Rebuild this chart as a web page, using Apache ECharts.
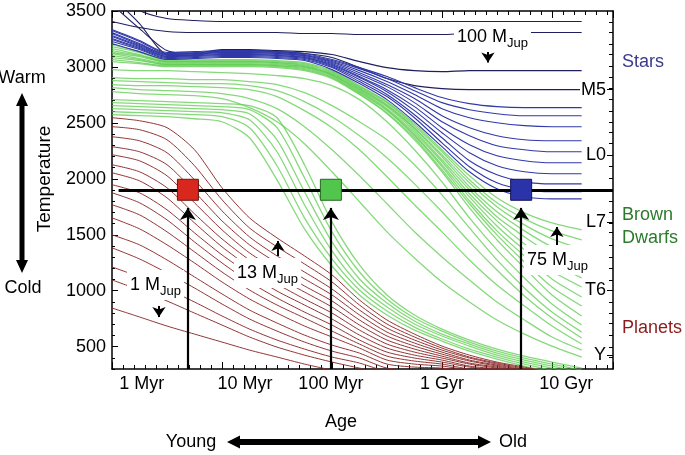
<!DOCTYPE html>
<html>
<head>
<meta charset="utf-8">
<script src="https://cdn.jsdelivr.net/npm/echarts@6/dist/echarts.min.js"></script>
<style>
  html, body { margin: 0; padding: 0; background: #fff; }
  #chart { width: 685px; height: 455px; }
</style>
</head>
<body>
<div id="chart"></div>
<script>
// log10(age / yr) where every track is sampled
const ageGrid = [6.0, 6.25, 6.5, 6.75, 7.0, 7.25, 7.5, 7.75, 8.0, 8.25, 8.5, 8.75, 9.0, 9.25, 9.5, 9.75, 10.0, 10.27]

// effective temperature (K) along each track
const starTracks = [
  [3693, 3505, 3433, 3415, 3406, 3406, 3406, 3406, 3406, 3406, 3406, 3406, 3406, 3406, 3406, 3406, 3406, 3406],
  [3406, 3352, 3317, 3308, 3308, 3308, 3308, 3299, 3299, 3290, 3290, 3290, 3290, 3299, 3299, 3308, 3308, 3308],
  [3558, 3343, 3146, 3120, 3155, 3155, 3146, 3137, 3111, 3048, 2994, 2967, 2958, 2967, 2967, 2967, 2967, 2967],
  [3630, 3388, 3111, 3102, 3146, 3146, 3137, 3120, 3084, 2994, 2896, 2833, 2806, 2797, 2797, 2797, 2797, 2797],
  [3334, 3236, 3129, 3137, 3146, 3146, 3137, 3120, 3066, 2994, 2914, 2815, 2726, 2672, 2645, 2636, 2636, 2636],
  [3325, 3227, 3120, 3129, 3137, 3137, 3129, 3111, 3057, 2985, 2896, 2788, 2681, 2618, 2582, 2564, 2564, 2564],
  [3308, 3209, 3111, 3120, 3129, 3129, 3120, 3102, 3048, 2967, 2869, 2753, 2627, 2546, 2501, 2475, 2466, 2466],
  [3299, 3200, 3111, 3120, 3129, 3129, 3120, 3102, 3039, 2949, 2842, 2717, 2564, 2457, 2385, 2349, 2340, 2340],
  [3281, 3191, 3102, 3111, 3120, 3120, 3111, 3093, 3030, 2932, 2824, 2681, 2510, 2385, 2296, 2260, 2242, 2242],
  [3272, 3182, 3093, 3102, 3111, 3111, 3102, 3084, 3021, 2914, 2797, 2645, 2457, 2305, 2206, 2161, 2143, 2143],
  [3254, 3173, 3093, 3102, 3111, 3111, 3102, 3084, 3012, 2905, 2779, 2609, 2412, 2233, 2117, 2063, 2045, 2045],
  [3245, 3164, 3084, 3093, 3102, 3102, 3093, 3075, 3003, 2887, 2753, 2573, 2367, 2161, 2036, 1973, 1955, 1955],
  [3227, 3155, 3075, 3084, 3093, 3093, 3084, 3066, 2994, 2869, 2735, 2546, 2322, 2108, 1964, 1902, 1884, 1884],
  [3209, 3137, 3066, 3075, 3084, 3084, 3075, 3057, 2976, 2851, 2708, 2510, 2287, 2063, 1911, 1839, 1821, 1821]
]

const dwarfTracks = [
  [3200, 3137, 3066, 3066, 3066, 3066, 3057, 3039, 2967, 2833, 2690, 2492, 2260, 2027, 1830, 1696, 1606, 1544],
  [3182, 3129, 3057, 3057, 3057, 3057, 3048, 3030, 2958, 2824, 2681, 2475, 2242, 1991, 1786, 1642, 1535, 1454],
  [3164, 3111, 3048, 3048, 3048, 3048, 3039, 3021, 2949, 2815, 2663, 2457, 2215, 1964, 1750, 1588, 1463, 1374],
  [3146, 3102, 3048, 3048, 3048, 3048, 3039, 3012, 2940, 2806, 2654, 2448, 2197, 1929, 1705, 1535, 1392, 1284],
  [3129, 3093, 3039, 3039, 3039, 3039, 3030, 3003, 2932, 2797, 2645, 2430, 2170, 1902, 1660, 1481, 1320, 1203],
  [3120, 3075, 3030, 3030, 3030, 3030, 3021, 3003, 2932, 2788, 2627, 2412, 2152, 1866, 1624, 1418, 1248, 1114],
  [3102, 3066, 3021, 3021, 3021, 3021, 3012, 2994, 2923, 2779, 2618, 2394, 2126, 1839, 1579, 1365, 1176, 1033],
  [3084, 3057, 3021, 3021, 3021, 3021, 3012, 2985, 2914, 2770, 2609, 2385, 2108, 1804, 1535, 1311, 1105, 944],
  [3066, 3039, 3012, 3012, 3012, 3012, 3003, 2976, 2905, 2761, 2591, 2367, 2081, 1777, 1499, 1257, 1033, 863],
  [3048, 3030, 3003, 3003, 3003, 3003, 2994, 2967, 2896, 2753, 2582, 2349, 2063, 1741, 1454, 1203, 962, 774],
  [2976, 2967, 2967, 2958, 2949, 2940, 2923, 2896, 2833, 2708, 2510, 2260, 1973, 1651, 1365, 1114, 881, 693],
  [2905, 2896, 2896, 2887, 2887, 2869, 2842, 2770, 2654, 2510, 2349, 2126, 1857, 1561, 1275, 1024, 809, 630],
  [2878, 2869, 2860, 2851, 2851, 2833, 2788, 2690, 2555, 2385, 2188, 1955, 1705, 1436, 1185, 953, 756, 577],
  [2842, 2833, 2833, 2824, 2815, 2797, 2735, 2609, 2457, 2260, 2018, 1768, 1526, 1275, 1051, 863, 684, 523],
  [2815, 2797, 2788, 2779, 2761, 2717, 2627, 2466, 2260, 2027, 1777, 1526, 1302, 1096, 899, 738, 586, 469],
  [2779, 2761, 2753, 2744, 2717, 2636, 2510, 2314, 2063, 1795, 1526, 1293, 1078, 899, 738, 612, 505, 407],
  [2708, 2699, 2690, 2681, 2672, 2654, 2546, 2126, 1615, 1230, 962, 783, 657, 559, 478, 415, 362, 308],
  [2681, 2672, 2663, 2654, 2645, 2618, 2457, 2009, 1526, 1167, 926, 756, 639, 541, 460, 398, 344, 290],
  [2654, 2645, 2636, 2627, 2618, 2582, 2349, 1884, 1436, 1105, 890, 729, 612, 523, 442, 380, 326, 272],
  [2627, 2618, 2609, 2600, 2591, 2528, 2242, 1768, 1356, 1051, 854, 702, 595, 505, 424, 362, 308, 254],
  [2600, 2591, 2582, 2573, 2555, 2457, 2117, 1651, 1284, 1006, 818, 675, 568, 478, 407, 344, 290, 236],
  [2573, 2564, 2555, 2537, 2510, 2367, 1991, 1553, 1221, 962, 783, 648, 550, 460, 389, 326, 272, 218]
]

const planetTracks = [
  [2546, 2519, 2457, 2260, 1920, 1651, 1472, 1311, 1141, 917, 738, 612, 505, 424, 362, 317, 272],
  [2466, 2439, 2349, 2117, 1813, 1561, 1392, 1239, 1078, 872, 702, 586, 487, 407, 353, 308, 263],
  [2376, 2340, 2233, 1991, 1714, 1481, 1311, 1167, 1015, 827, 666, 559, 469, 398, 344, 299, 254],
  [2287, 2242, 2126, 1884, 1624, 1410, 1248, 1105, 962, 783, 630, 532, 451, 380, 335, 290],
  [2215, 2161, 2027, 1786, 1544, 1338, 1185, 1042, 908, 738, 595, 505, 433, 371, 326, 281],
  [2126, 2063, 1920, 1687, 1463, 1275, 1123, 988, 854, 693, 559, 478, 415, 353, 317, 272],
  [2054, 1982, 1830, 1606, 1392, 1212, 1060, 926, 800, 648, 523, 451, 398, 344, 308, 263],
  [1947, 1875, 1723, 1517, 1320, 1150, 997, 872, 747, 603, 487, 424, 380, 326, 299, 254],
  [1875, 1786, 1633, 1436, 1248, 1078, 935, 809, 693, 559, 451, 398, 362, 317, 290],
  [1768, 1678, 1526, 1347, 1167, 1006, 872, 756, 639, 523, 415, 371, 344, 299, 281],
  [1651, 1553, 1410, 1248, 1078, 926, 800, 684, 586, 487, 380, 344, 326, 290, 272],
  [1499, 1410, 1275, 1123, 971, 827, 711, 603, 514, 442, 344, 317, 308, 281],
  [1383, 1284, 1159, 1024, 881, 747, 639, 541, 460, 398, 308, 290, 290, 272],
  [1212, 1123, 1015, 899, 774, 657, 559, 478, 407, 353, 272],
  [1096, 1006, 908, 800, 693, 586, 496, 424, 362, 308, 254],
  [845, 765, 684, 612, 541, 469, 407, 344, 290]
]

// axis labels
const ageLabels = ['1 Myr', '10 Myr', '100 Myr', '1 Gyr', '10 Gyr']
const ageLabelAt = [6.27, 7.21, 7.99, 9.0, 10.13]
const tempLabels = [500, 1000, 1500, 2000, 2500, 3000, 3500]
const spectralTypes = ['M5', 'L0', 'L7', 'T6', 'Y']
const spectralTemps = [2797, 2215, 1616, 1007, 425]
const spectralTicks = [3397, 3308, 3200, 3111, 3003, 2905, 2806, 2708, 2600, 2502, 2412, 2314, 2215, 2108, 2009,
  1902, 1795, 1705, 1607, 1518, 1410, 1303, 1204, 1097, 1007, 900, 802, 712, 605, 498, 409]

// the three example objects: same temperature, different ages
const markerAges = [6.69, 7.99, 9.72]
const markerTemp = 1902
const massNotes = ['100', '1', '13', '75']

const FONT = "'Liberation Sans', Arial, Helvetica, sans-serif"
const chart = echarts.init(document.getElementById('chart'))

function trackLine(vals, color, width, opacity, z) {
  return {
    type: 'line',
    data: vals.map((t, i) => [ageGrid[i], t]),
    symbol: 'none',
    smooth: 0.25,
    silent: true,
    clip: true,
    z: z,
    lineStyle: { color: color, width: width, opacity: opacity }
  }
}

function ageAxis(pos) {
  return {
    type: 'value',
    position: pos,
    min: 6,
    max: 10.555,
    interval: 1,
    axisLine: { lineStyle: { color: '#000', width: 1.5 } },
    axisTick: { inside: true, length: 7, lineStyle: { color: '#000' } },
    minorTick: { show: true, splitNumber: 10, length: 4, lineStyle: { color: '#000' } },
    splitLine: { show: false },
    minorSplitLine: { show: false },
    axisLabel: pos === 'bottom' ? {
      customValues: ageLabelAt,
      formatter: v => ageLabels[ageLabelAt.indexOf(v)],
      fontSize: 18, fontFamily: FONT, color: '#000', margin: 6
    } : { show: false }
  }
}

function tempAxis(pos, extra) {
  return Object.assign({
    type: 'value',
    position: pos,
    min: 300,
    max: 3500,
    splitLine: { show: false },
    axisLine: { show: false },
    axisLabel: { show: false }
  }, extra)
}

const series = []
dwarfTracks.forEach(t => series.push(trackLine(t, '#5dcc4f', 1.3, 0.75, 2)))
planetTracks.forEach(t => series.push(trackLine(t, '#8c2b2b', 1, 0.95, 3)))
starTracks.forEach((t, i) => series.push(trackLine(t, i < 4 ? '#1e1f5e' : '#3139a8', 1.1, 1, 4)))

// horizontal line at the common temperature
series.push({
  type: 'line', data: [[6, markerTemp]], symbol: 'none', lineStyle: { width: 0 }, silent: true, z: 6,
  markLine: {
    silent: true, animation: false, label: { show: false },
    symbol: ['arrow', 'none'], symbolSize: [14, 0],
    lineStyle: { color: '#000', width: 3, type: 'solid' },
    data: [[{ coord: [6.06, markerTemp] }, { coord: [10.555, markerTemp] }]]
  }
})
// vertical arrows up to each object
series.push({
  type: 'line', data: [[6, markerTemp]], symbol: 'none', lineStyle: { width: 0 }, silent: true, z: 6,
  markLine: {
    silent: true, animation: false, label: { show: false },
    symbol: ['none', 'arrow'], symbolSize: 12,
    lineStyle: { color: '#000', width: 2.2, type: 'solid' },
    data: markerAges.map(a => [{ coord: [a, 300] }, { coord: [a, 1740] }])
  }
})
// small arrows pointing at the labelled mass tracks
const noteArrows = [
  [[9.418, 3182], [9.418, 3039]],
  [[6.427, 863], [6.427, 765]],
  [[7.509, 1311], [7.509, 1445]],
  [[10.045, 1401], [10.045, 1570]]
]
series.push({
  type: 'line', data: [[6, markerTemp]], symbol: 'none', lineStyle: { width: 0 }, silent: true, z: 6,
  markLine: {
    silent: true, animation: false, label: { show: false },
    symbol: ['none', 'arrow'], symbolSize: 10,
    lineStyle: { color: '#000', width: 2, type: 'solid' },
    data: noteArrows.map(p => [{ coord: p[0] }, { coord: p[1] }])
  }
})
const markerFill = ['#d8281e', '#52c64c', '#2a33a8']
const markerEdge = ['#6b1410', '#256625', '#141456']
series.push({
  type: 'scatter', z: 7, silent: true,
  symbol: 'rect', symbolSize: 21,
  data: markerAges.map((a, i) => ({
    value: [a, markerTemp],
    itemStyle: { color: markerFill[i], borderColor: markerEdge[i], borderWidth: 1, opacity: 1 }
  }))
})

function massLabel(n, x, y) {
  return {
    type: 'text', x: x, y: y, z: 100,
    style: {
      text: '{m|' + n + ' M}{s|Jup}',
      verticalAlign: 'middle',
      backgroundColor: '#fff',
      padding: [2, 3, 2, 3],
      rich: {
        m: { fontSize: 18, fontFamily: FONT, lineHeight: 26, verticalAlign: 'middle', fill: '#000' },
        s: { fontSize: 13, fontFamily: FONT, lineHeight: 26, verticalAlign: 'bottom', fill: '#000' }
      }
    }
  }
}

function plainText(txt, x, y, color, align, size) {
  return {
    type: 'text', x: x, y: y, z: 100,
    style: { text: txt, fontSize: size || 18, fontFamily: FONT, fill: color, align: align || 'left', verticalAlign: 'middle' }
  }
}

const graphic = [
  massLabel(massNotes[0], 454, 37),
  massLabel(massNotes[1], 127, 285),
  massLabel(massNotes[2], 234, 273),
  massLabel(massNotes[3], 524, 260),
  plainText('Stars', 622, 62, '#3b3a8c'),
  plainText('Brown', 622, 215, '#2d7a2d'),
  plainText('Dwarfs', 622, 238, '#2d7a2d'),
  plainText('Planets', 622, 328, '#8b1c1c'),
  plainText('Warm', 22, 78, '#000', 'center'),
  plainText('Cold', 23, 288, '#000', 'center'),
  plainText('Age', 341, 422, '#000', 'center'),
  plainText('Young', 191, 442, '#000', 'center'),
  plainText('Old', 513, 442, '#000', 'center'),
  {
    type: 'text', x: 45, y: 179, rotation: Math.PI / 2, z: 100,
    style: { text: 'Temperature', fontSize: 19, fontFamily: FONT, fill: '#000', align: 'center', verticalAlign: 'middle' }
  },
  {
    type: 'polygon', z: 100,
    shape: { points: [[22, 93], [28, 106], [24.5, 106], [24.5, 260], [28, 260], [22, 273], [16, 260], [19.5, 260], [19.5, 106], [16, 106]] },
    style: { fill: '#000' }
  },
  {
    type: 'polygon', z: 100,
    shape: { points: [[227, 442], [240, 435.5], [240, 439], [478, 439], [478, 435.5], [491, 442], [478, 448.5], [478, 445], [240, 445], [240, 448.5]] },
    style: { fill: '#000' }
  }
]

chart.setOption({
  animation: false,
  backgroundColor: '#fff',
  grid: { left: 112, right: 72, top: 11, bottom: 86, outerBoundsMode: 'none' },
  xAxis: [ageAxis('bottom'), ageAxis('top')],
  yAxis: [
    tempAxis('left', {
      interval: 100,
      axisLine: { show: true, lineStyle: { color: '#000', width: 1.5 } },
      axisTick: { inside: true, length: 3, lineStyle: { color: '#000' } },
      axisLabel: {
        customValues: tempLabels, formatter: v => String(v),
        fontSize: 18, fontFamily: FONT, color: '#000', margin: 6
      }
    }),
    tempAxis('left', {
      axisTick: { inside: true, length: 6, customValues: tempLabels, lineStyle: { color: '#000' } }
    }),
    tempAxis('right', {
      z: 10,
      axisLine: { show: true, lineStyle: { color: '#000', width: 1.5 } },
      axisTick: { inside: true, length: 4, customValues: spectralTicks, lineStyle: { color: '#000' } },
      axisLabel: {
        show: true, inside: true, customValues: spectralTemps,
        formatter: v => spectralTypes[spectralTemps.indexOf(v)],
        fontSize: 18, fontFamily: FONT, color: '#000', margin: 6,
        backgroundColor: '#fff', padding: [0, 1]
      }
    }),
    tempAxis('right', {
      axisTick: { inside: true, length: 7, customValues: spectralTemps, lineStyle: { color: '#000' } }
    })
  ],
  graphic: graphic,
  series: series
})
</script>
</body>
</html>
